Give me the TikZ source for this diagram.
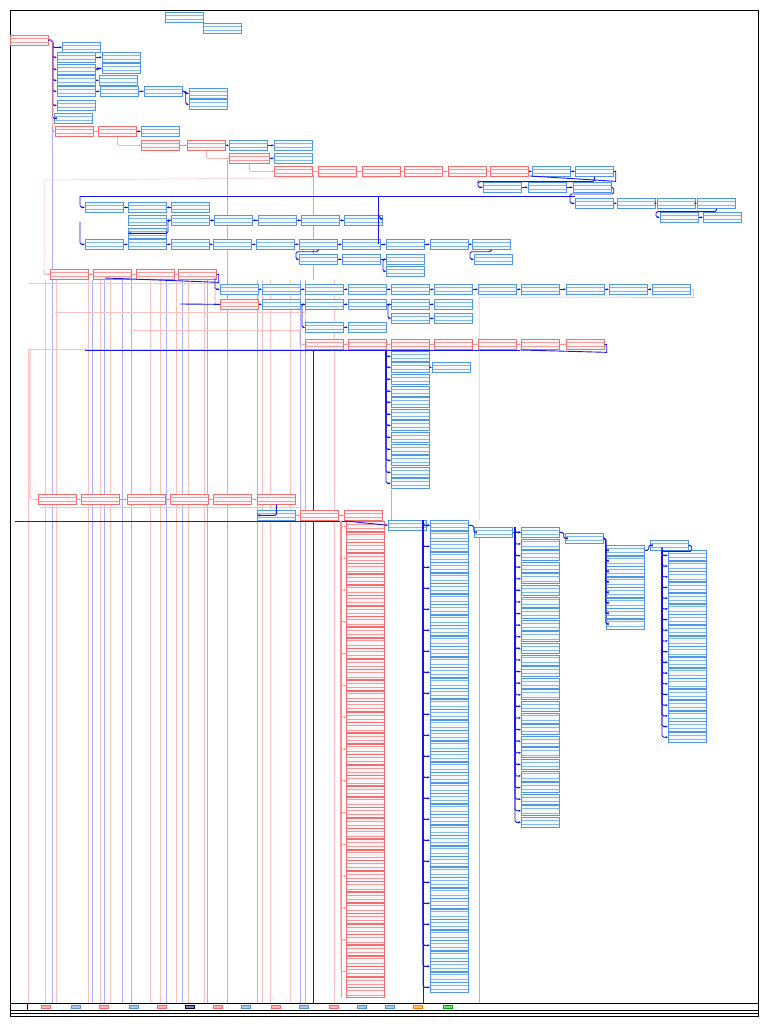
\documentclass[tikz,border=0pt]{standalone}
\usetikzlibrary{arrows.meta}
\definecolor{rb}{RGB}{240,110,110}
\definecolor{bb}{RGB}{80,150,225}
\definecolor{cb}{RGB}{20,20,235}
\definecolor{cr}{RGB}{250,140,140}
\tikzset{
 box/.style={draw=#1,line width=0.7pt,fill=#1!6,anchor=north west,inner sep=0,minimum height=10pt,
   path picture={\draw[#1!70,line width=0.3pt]([yshift=-2.5pt]path picture bounding box.north west)--([yshift=-2.5pt]path picture bounding box.north east);
   \draw[#1!70,line width=0.3pt]([yshift=3pt]path picture bounding box.south west)--([yshift=3pt]path picture bounding box.south east);}},
 bc/.style={draw=cb,line width=0.9pt,-{Latex[length=2.5pt,width=2.5pt]},rounded corners=1.5pt},
 rc/.style={draw=cr,line width=0.6pt,-{Latex[length=2pt,width=2pt]},rounded corners=1.5pt},
 bl/.style={draw=cb,line width=0.9pt},
 fb/.style={draw=cb!35,line width=0.5pt},
 fr/.style={draw=cr!55,line width=0.5pt},
}
\newcommand\bx[5][38]{\node[box=#5,minimum width=#1pt] (#2) at (#3,#4) {};}
\begin{document}
\begin{tikzpicture}[x=1pt,y=-1pt]
\useasboundingbox (0,0) rectangle (768,1024);
\draw[line width=0.6pt] (10,10) rectangle (758,1013);
\foreach \x in {45,56,88,100,110,150,160,176,188,204,262,270,290,334}{\draw[fr] (\x,280)--(\x,1003);}
\foreach \x in {52,92,104,122,131,166,182,207,227,257,300,305}{\draw[fb] (\x,280)--(\x,1003);}
\draw[fb] (52,125)--(52,280);
\draw[fb] (227,160)--(227,280);
\draw[fb] (313,175)--(313,280);
\draw[fb] (479,535)--(479,1003);
\draw[fb] (391,490)--(391,520);
\draw[bl] (313,340)--(313,1003);
\draw[bl] (423,520)--(423,1003);
\draw[fr] (530,176)--(44,180)--(44,270);
\draw[fr] (28,283)--(220,283);
\draw[fr] (55,312)--(305,312)--(305,340);
\draw[fr] (130,330)--(300,330);
\draw[fr] (30,349)--(390,349);
\draw[fr] (28,349)--(28,1003);
\draw[fr] (40,507)--(300,507);
\draw[bl] (80,196)--(575,196);
\draw[bl] (85,350)--(520,350);
\draw[bl] (15,521)--(346,521);
\draw[bl] (378,196)--(378,215);
\bx{t1}{165}{12}{bb}\bx{t2}{203}{23}{bb}
\bx{r0}{10}{35}{rb}
\bx{a1}{62}{42}{bb}\bx{a2}{57}{52}{bb}\bx{a3}{57}{64}{bb}\bx{a4}{57}{75}{bb}
\bx{a5}{57}{86}{bb}\bx{a6}{57}{100}{bb}\bx{a7}{54}{113}{bb}
\bx{a8}{55}{126}{rb}
\foreach \c in {a1,a2,a3,a4,a5,a6,a7}{\draw[bc] (r0.east)--++(4,0)|-(\c.west);}
\draw[rc] (r0.east)--++(4,0)|-(a8.west);
\bx{b1}{102}{52}{bb}\bx{b2}{102}{63}{bb}\bx{b3}{99}{75}{bb}\bx{b4}{100}{86}{bb}
\draw[bc](a2.east)--(b1.west);\draw[bc](a3.east)--++(2,0)|-(b2.west);
\draw[bc](a4.east)--(b3.west);\draw[bc](a5.east)--(b4.west);
\bx{b5}{144}{86}{bb}\bx{b6}{189}{88}{bb}\bx{b7}{189}{99}{bb}
\draw[bc](b4.east)--(b5.west);\draw[bc](b5.east)--++(3,0)|-(b6.west);\draw[bc](b5.east)--++(3,0)|-(b7.west);
\bx{c1}{98}{126}{rb}\bx{c2}{141}{126}{bb}
\draw[rc](a8.east)--(c1.west);\draw[bc](c1.east)--(c2.west);
\bx{d1}{141}{140}{rb}\bx{d2}{187}{140}{rb}\bx{d3}{229}{140}{bb}\bx{d4}{274}{140}{bb}
\draw[rc](c1.south)|-(d1.west);\draw[rc](d1.east)--(d2.west);\draw[bc](d2.east)--(d3.west);\draw[bc](d3.east)--(d4.west);
\bx[40]{e1}{229}{153}{rb}\bx{e2}{274}{153}{bb}
\draw[rc](d2.south)|-(e1.west);\draw[bc](e1.east)--(e2.west);
\foreach[count=\i] \x/\c in {274/rb,318/rb,362/rb,404/rb,448/rb,490/rb,532/bb,575/bb}{\bx{f\i}{\x}{166}{\c}}
\draw[rc](e1.south)|-(f1.west);
\foreach \i[evaluate=\i as \j using int(\i+1)] in {1,...,5}{\draw[rc](f\i.east)--(f\j.west);}
\draw[bc](f6.east)--(f7.west);\draw[bc](f7.east)--(f8.west);
\draw[bl](f8.east)--++(2,0)--++(0,10)--(530,176);
\bx{g1}{483}{182}{bb}\bx{g2}{528}{182}{bb}\bx{g3}{573}{182}{bb}
\draw[bc](f8.south)--++(0,5)-|(478,182)|-(g1.west);\draw[bc](g1.east)--(g2.west);\draw[bc](g2.east)--(g3.west);
\foreach[count=\i] \x in {575,617,657,697}{\bx{h\i}{\x}{198}{bb}}
\draw[bc](g3.east)--++(2,0)|-(570,194)|-(h1.west);
\foreach \i[evaluate=\i as \j using int(\i+1)] in {1,2,3}{\draw[bc](h\i.east)--(h\j.west);}
\bx{h5}{660}{212}{bb}\bx{h6}{703}{212}{bb}
\draw[bc](h4.south)--++(0,3)-|(656,214)|-(h5.west);\draw[bc](h5.east)--(h6.west);
\bx{i1}{85}{202}{bb}\bx{i2}{128}{202}{bb}\bx{i3}{171}{202}{bb}
\draw[bc](80,196)|-(i1.west);\draw[bc](i3.west)--(i2.east);\draw[bc](i2.west)--(i1.east);
\foreach[count=\i] \x in {128,171,214,258,301,344}{\bx{j\i}{\x}{215}{bb}}
\foreach \i[evaluate=\i as \j using int(\i+1)] in {2,...,5}{\draw[bc](j\j.west)--(j\i.east);}
\draw[bc](378,215)--(j6.east);
\bx{k1}{128}{228}{bb}
\draw[bc](j2.west)--++(-3,0)|-(k1.west);\draw[bc](j2.west)--(j1.east);
\foreach[count=\i] \x in {85,128,171,213,256,299,342,386,430,472}{\bx{l\i}{\x}{239}{bb}}
\draw[bc](80,222)--(80,236)|-(l1.west);
\foreach \i[evaluate=\i as \j using int(\i+1)] in {1,...,9}{\draw[bc](l\i.east)--(l\j.west);}
\draw[bl](378,215)--(378,244);
\bx{m1}{299}{254}{bb}\bx{m2}{342}{254}{bb}\bx{m3}{386}{254}{bb}\bx{m4}{474}{254}{bb}\bx{m5}{386}{266}{bb}
\draw[bc](l6.south)--++(0,2)-|(296,254)|-(m1.west);\draw[bc](m1.east)--(m2.west);
\draw[bc](m2.east)--(m3.west);\draw[bc](m3.west)--++(-3,0)|-(m5.west);
\draw[bc](l10.south)--++(0,2)-|(470,254)|-(m4.west);
\foreach[count=\i] \x in {50,93,136,178}{\bx{n\i}{\x}{269}{rb}}
\draw[rc](44,270)|-(n1.west);
\foreach \i[evaluate=\i as \j using int(\i+1)] in {1,2,3}{\draw[rc](n\i.east)--(n\j.west);}
\draw[bl](n4.east)--++(2,0)--++(0,8)--(105,278);
\foreach[count=\i] \x in {220,262,305,348,391,434,478,521,566,609,652}{\bx{o\i}{\x}{284}{bb}}
\draw[bc](215,278)|-(o1.west);
\foreach \i[evaluate=\i as \j using int(\i+1)] in {1,...,10}{\draw[bc](o\i.east)--(o\j.west);}
\draw[fb](o11.east)--++(3,0)--++(0,8)--(479,297)--(479,520);
\bx{p1}{220}{299}{rb}\foreach[count=\i from 2] \x in {262,305,348,391,434}{\bx{p\i}{\x}{299}{bb}}
\draw[rc](215,283)|-(p1.west);\draw[bc](p1.east)--(p2.west);
\foreach \i[evaluate=\i as \j using int(\i+1)] in {2,...,5}{\draw[bc](p\i.east)--(p\j.west);}
\draw[bl](180,304)--(p1.west);
\bx{q1}{391}{313}{bb}\bx{q2}{434}{313}{bb}\bx{q3}{305}{322}{bb}\bx{q4}{348}{322}{bb}
\draw[bc](p5.west)--++(-3,0)|-(q1.west);\draw[bc](q1.east)--(q2.west);
\draw[bc](p3.west)--++(-3,0)|-(q3.west);\draw[bc](q3.east)--(q4.west);
\foreach[count=\i] \x in {305,348,391,434,478,521,566}{\bx{s\i}{\x}{339}{rb}}
\draw[rc](300,330)|-(s1.west);
\foreach \i[evaluate=\i as \j using int(\i+1)] in {1,...,6}{\draw[rc](s\i.east)--(s\j.west);}
\draw[bl](s7.east)--++(2,0)--++(0,8)--(520,350);
\foreach[count=\i] \y in {351,362,374,386,397,409,420,432,444,455,467,478}{\bx{u\i}{391}{\y}{bb}
 \draw[bc](386,350)|-(u\i.west);}
\bx{u0}{432}{362}{bb}\draw[bc](u2.east)--(u0.west);
\foreach[count=\i] \x in {38,81,127,170,213,257}{\bx{v\i}{\x}{494}{rb}}
\draw[rc](30,349)--(30,499)--(v1.west);
\foreach \i[evaluate=\i as \j using int(\i+1)] in {1,...,5}{\draw[rc](v\i.east)--(v\j.west);}
\bx{w1}{257}{510}{bb}\bx{w2}{300}{510}{rb}\bx{w3}{344}{510}{rb}
\draw[bc](v6.south)|-(w1.west);\draw[rc](w1.east)--(w2.west);\draw[rc](w2.east)--(w3.west);
\foreach \i in {1,...,45}{\pgfmathsetmacro\yy{521+(\i-1)*10.6}\bx{x\i}{346}{\yy}{rb}}
\foreach \i in {1,4,...,45}{\draw[rc](341,521)|-(x\i.west);}
\draw[draw=cr,line width=0.6pt](341,521)--(341,998);
\bx{y0}{388}{520}{bb}\draw[bc](346,521)--(y0.west);
\foreach \i in {1,...,45}{\pgfmathsetmacro\yy{520+(\i-1)*10.5}\bx{y\i}{430}{\yy}{bb}}
\foreach \i in {1,3,...,45}{\draw[bc](423,520)|-(y\i.west);}
\draw[bc](y0.east)--(y1.west);
\bx{z0}{474}{527}{bb}\draw[bc](y1.east)--++(5,0)|-(z0.west);
\foreach \i in {1,...,26}{\pgfmathsetmacro\yy{527+(\i-1)*11.6}\bx{z\i}{521}{\yy}{bb}\draw[bc](515,527)|-(z\i.west);}
\draw[bc](z0.east)--(z1.west);
\bx{aa0}{565}{533}{bb}\draw[bc](z1.east)--++(4,0)|-(aa0.west);
\foreach \i in {1,...,8}{\pgfmathsetmacro\yy{545+(\i-1)*10.5}\bx{aa\i}{606}{\yy}{bb}\draw[bc](aa0.east)--++(2,0)|-(aa\i.west);}
\bx{ab0}{650}{540}{bb}\draw[bc](aa1.east)--++(4,0)|-(ab0.west);
\foreach \i in {1,...,18}{\pgfmathsetmacro\yy{550+(\i-1)*10.7}\bx{ab\i}{668}{\yy}{bb}\draw[bc](662,550)|-(ab\i.west);}
\draw[bc](ab0.east)--++(3,0)--++(0,6)-|(662,550);
\draw[line width=0.6pt](10,1003)--(758,1003);\draw[line width=0.6pt](10,1010)--(758,1010);
\draw[line width=0.6pt](27,1003)--(27,1010);
\draw[line width=0.6pt](10,1013) rectangle (758,1016);
\foreach[count=\i] \x/\c in {42/rb,72/bb,100/rb,130/bb,158/rb,186/black!70!blue,214/rb,242/bb,272/rb,300/bb,330/rb,358/bb,386/bb,414/orange,444/green!70!black}{
 \node[draw=\c,fill=\c!50,inner sep=0,minimum width=9pt,minimum height=3.5pt] (lg\i) at (\x+4,1006.5) {};}
\end{tikzpicture}
\end{document}
